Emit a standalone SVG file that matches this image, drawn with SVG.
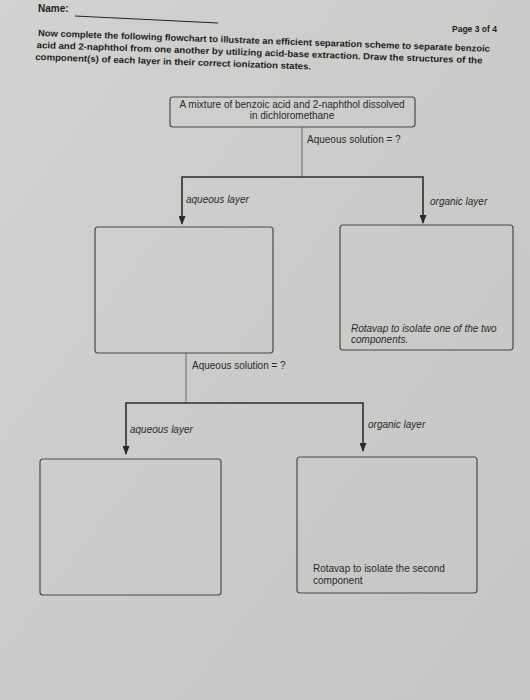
<svg xmlns="http://www.w3.org/2000/svg" width="530" height="700" viewBox="0 0 530 700">
<defs>
<linearGradient id="paper" x1="0" y1="0" x2="1" y2="1">
<stop offset="0" stop-color="#d2d2d0"/>
<stop offset="0.5" stop-color="#cbcbc9"/>
<stop offset="1" stop-color="#c6c6c4"/>
</linearGradient>
<marker id="ah" markerWidth="9" markerHeight="7" refX="8" refY="3.5" orient="auto" markerUnits="userSpaceOnUse" viewBox="0 0 9 7">
<path d="M0,0 L9,3.5 L0,7 Z" fill="#2a2a2a"/>
</marker>
</defs>
<style>
.hdr{font-family:"Liberation Sans",Arial,sans-serif;font-weight:bold;fill:#1e1e1e}
.box{fill:none;stroke:#4a4a4a;stroke-width:1.2}
.t{font-family:"Liberation Sans",Arial,sans-serif;font-size:10px;fill:#2a2a2a}
.i{font-style:italic}
.trunk{fill:none;stroke:#6a6a6a;stroke-width:1}
.br{fill:none;stroke:#2e2e2e;stroke-width:1.6}
</style>
<rect width="530" height="700" fill="url(#paper)"/>
<g id="header">
<text class="hdr" x="38" y="12" font-size="10">Name:</text>
<line x1="75" y1="16" x2="218" y2="23" stroke="#222" stroke-width="1"/>
<text class="hdr" x="452" y="32" font-size="8.5">Page 3 of 4</text>
<g transform="rotate(2 38 36)">
<text class="hdr" x="38" y="36" font-size="9" textLength="452" lengthAdjust="spacingAndGlyphs">Now complete the following flowchart to illustrate an efficient separation scheme to separate benzoic</text>
<text class="hdr" x="37" y="48" font-size="9" textLength="446" lengthAdjust="spacingAndGlyphs">acid and 2-naphthol from one another by utilizing acid-base extraction.  Draw the structures of the</text>
<text class="hdr" x="36" y="60" font-size="9" textLength="276" lengthAdjust="spacingAndGlyphs">component(s) of each layer in their correct ionization states.</text>
</g>
</g>
<g id="connectors">
<polyline class="trunk" points="302,127 302,177"/>
<polyline class="br" points="302,177 182,177 182,224" marker-end="url(#ah)"/>
<polyline class="br" points="302,177 423,177 423,223" marker-end="url(#ah)"/>
<polyline class="trunk" points="186,353 186,403"/>
<polyline class="br" points="186,403 126,403 126,454" marker-end="url(#ah)"/>
<polyline class="br" points="186,403 363,403 363,451" marker-end="url(#ah)"/>
<text class="t" x="307" y="143">Aqueous solution = ?</text>
<text class="t i" x="186" y="203">aqueous layer</text>
<text class="t i" x="430" y="205">organic layer</text>
<text class="t" x="192" y="369">Aqueous solution = ?</text>
<text class="t i" x="130" y="433">aqueous layer</text>
<text class="t i" x="368" y="428">organic layer</text>
</g>
<g id="start">
<rect class="box" x="170" y="97" width="245" height="30" rx="3"/>
<text class="t" x="292" y="108" text-anchor="middle">A mixture of benzoic acid and 2-naphthol dissolved</text>
<text class="t" x="292" y="119" text-anchor="middle">in dichloromethane</text>
</g>
<g id="aq1">
<rect class="box" x="95" y="227" width="178" height="126" rx="3"/>
</g>
<g id="org1">
<rect class="box" x="340" y="225" width="173" height="125" rx="3"/>
<text class="t i" x="351" y="332">Rotavap to isolate one of the two</text>
<text class="t i" x="351" y="343">components.</text>
</g>
<g id="aq2">
<rect class="box" x="40" y="459" width="181" height="136" rx="3"/>
</g>
<g id="org2">
<rect class="box" x="297" y="457" width="180" height="136" rx="3"/>
<text class="t" x="313" y="572">Rotavap to isolate the second</text>
<text class="t" x="313" y="584">component</text>
</g>
</svg>
